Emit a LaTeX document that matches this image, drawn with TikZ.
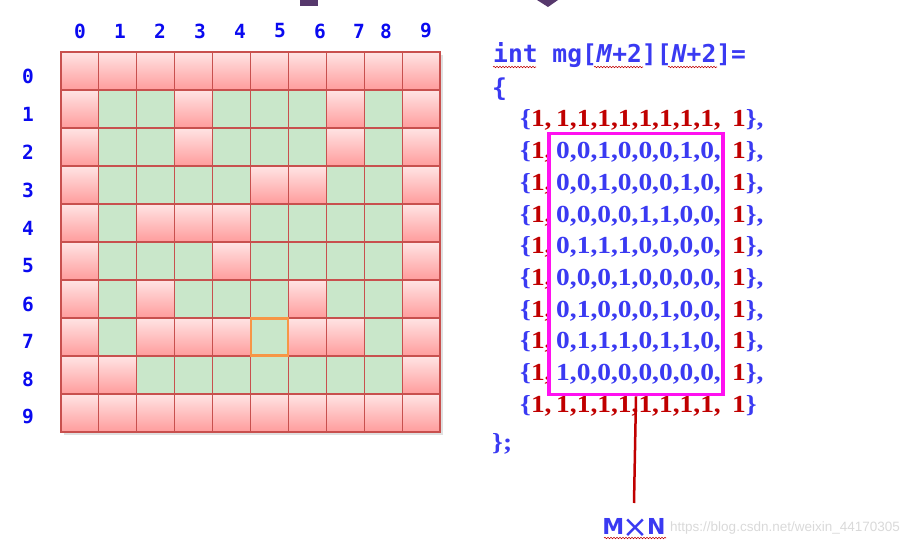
\documentclass[tikz,border=0pt]{standalone}
\usepackage{fontspec}
\usetikzlibrary{decorations.pathmorphing,calc}
\newfontfamily\monofnt{DejaVu Sans Mono}
\newfontfamily\codefnt[FakeStretch=1.12]{Liberation Serif}
\newfontfamily\sansfnt{DejaVu Sans}
\newfontfamily\wmfnt{Liberation Sans}
\definecolor{lblblue}{HTML}{0A0AF0}
\definecolor{codeblue}{HTML}{3A3AF2}
\definecolor{codered}{HTML}{C00000}
\definecolor{pinktop}{HTML}{FFE4E4}
\definecolor{pinkbot}{HTML}{FF9C9C}
\definecolor{cellgreen}{HTML}{C9E7CA}
\definecolor{cellborder}{HTML}{C8504E}
\definecolor{boxmag}{HTML}{FF10F0}
\definecolor{orangecell}{HTML}{F79646}
\definecolor{deco}{HTML}{56386C}
\tikzset{
  cellbase/.style={draw=cellborder, line width=1.1pt, minimum width=37.9pt, minimum height=38pt, inner sep=0pt},
  wallcell/.style={cellbase, top color=pinktop, bottom color=pinkbot},
  pathcell/.style={cellbase, fill=cellgreen},
  idxlabel/.style={text=lblblue, font=\monofnt\bfseries\fontsize{19.5}{22}\selectfont, inner sep=0pt},
  codetext/.style={anchor=base west, inner sep=0pt, font=\codefnt\bfseries\fontsize{24.5}{28}\selectfont},
  wavy/.style={codered, line width=0.6pt, decorate, decoration={snake, amplitude=0.7pt, segment length=3pt}}
}
\begin{document}
\begin{tikzpicture}[x=1pt,y=-1pt]
\useasboundingbox (0,0) rectangle (909,545);
% top decorations
\fill[deco] (300,0) rectangle (318,6);
\fill[deco] (537,0) -- (558,0) -- (548,7) -- cycle;
% grid shadow
\fill[black!12] (64,55) rectangle (443,435);
% grid
\foreach \r/\vals in {0/{1,1,1,1,1,1,1,1,1,1},1/{1,0,0,1,0,0,0,1,0,1},2/{1,0,0,1,0,0,0,1,0,1},3/{1,0,0,0,0,1,1,0,0,1},4/{1,0,1,1,1,0,0,0,0,1},5/{1,0,0,0,1,0,0,0,0,1},6/{1,0,1,0,0,0,1,0,0,1},7/{1,0,1,1,1,0,1,1,0,1},8/{1,1,0,0,0,0,0,0,0,1},9/{1,1,1,1,1,1,1,1,1,1}}{
  \foreach \v [count=\c from 0] in \vals {
    \ifnum\v=1
      \node[wallcell] (g\r-\c) at ({61+37.9*(\c+0.5)},{52+38*(\r+0.5)}) {};
    \else
      \node[pathcell] (g\r-\c) at ({61+37.9*(\c+0.5)},{52+38*(\r+0.5)}) {};
    \fi
  }
}
\draw[orangecell, line width=2.4pt] ($(g7-5.north west)+(1,1)$) rectangle ($(g7-5.south east)+(-1,-1)$);
% column labels
\foreach \x [count=\c from 0] in {80,120,160,200,240,280,320,359,386,426}
  \node[idxlabel] (col\c) at (\x,31) {\c};
% row labels
\foreach \y [count=\r from 0] in {76,114,152,190,228,266,304,341,379,417}
  \node[idxlabel] (row\r) at (28,\y) {\r};
% code header
\node[anchor=base west, inner sep=0pt, text=codeblue, font=\monofnt\bfseries\fontsize{24.6}{28}\selectfont] (hdr) at (493,63) {int mg[\textit{M}+2][\textit{N}+2]=};
\draw[wavy] (493,67) -- (536,67);
\draw[wavy] (594,67) -- (643,67);
\draw[wavy] (668,67) -- (717,67);
\node[anchor=base west, inner sep=0pt, text=codeblue, font=\monofnt\bfseries\fontsize{24.6}{28}\selectfont] (obr) at (492,97) {\{};
% code rows
\foreach \i/\mid/\mc in {0/{1,1,1,1,1,1,1,1,}/codered,1/{0,0,1,0,0,0,1,0,}/codeblue,2/{0,0,1,0,0,0,1,0,}/codeblue,3/{0,0,0,0,1,1,0,0,}/codeblue,4/{0,1,1,1,0,0,0,0,}/codeblue,5/{0,0,0,1,0,0,0,0,}/codeblue,6/{0,1,0,0,0,1,0,0,}/codeblue,7/{0,1,1,1,0,1,1,0,}/codeblue,8/{1,0,0,0,0,0,0,0,}/codeblue,9/{1,1,1,1,1,1,1,1,}/codered}{
  \node[codetext] (l\i) at (520,{127+31.7*\i}) {\textcolor{codeblue}{\{}\textcolor{codered}{1,}};
  \node[codetext, text=\mc] (m\i) at (556,{127+31.7*\i}) {\mid};
  \ifnum\i=9
    \node[codetext] (r\i) at (732,{127+31.7*\i}) {\textcolor{codered}{1}\textcolor{codeblue}{\}}};
  \else
    \node[codetext] (r\i) at (732,{127+31.7*\i}) {\textcolor{codered}{1}\textcolor{codeblue}{\},}};
  \fi
}
\node[codetext, text=codeblue] (cbr) at (492,450) {\};};
% magenta box
\node[draw=boxmag, line width=3.6pt, minimum width=174pt, minimum height=261pt, inner sep=0pt] (box) at (636,264) {};
% M x N label
\node[anchor=base, inner sep=0pt, text=codeblue, font=\sansfnt\bfseries\fontsize{22}{26}\selectfont] (mn) at (634,534) {M\kern-1.5pt\raisebox{-3pt}{\mdseries\fontsize{31}{31}\selectfont ×}\kern-1.5pt N};
\draw[wavy] (604,538) -- (666,538);
\coordinate (lineend) at (634,503);
\draw[codered, line width=2.5pt] (box.south) -- (lineend);
% watermark
\node[anchor=base west, inner sep=0pt, text=black!15, font=\wmfnt\fontsize{13.5}{16}\selectfont] (wm) at (670,531) {https://blog.csdn.net/weixin\_44170305};
\end{tikzpicture}
\end{document}
